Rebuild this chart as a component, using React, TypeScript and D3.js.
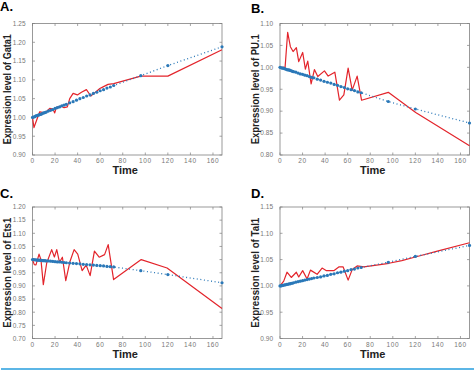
import React from "react";
import * as d3 from "d3";

// time axis
const xTicks = [0, 20, 40, 60, 80, 100, 120, 140, 160];

// model fit (blue) sampled times
const blueTimes = [0, 1, 2, 3, 4, 5, 6, 7, 8, 9, 10, 11, 12, 14, 16, 18, 20, 22, 24, 26, 28, 30, 33, 36, 39, 42, 45, 48, 51, 54, 57, 60, 63, 66, 69, 72, 96, 120, 168];

const gata1Blue = [1.0, 1.001, 1.002, 1.004, 1.005, 1.006, 1.007, 1.008, 1.009, 1.011, 1.012, 1.013, 1.014, 1.017, 1.019, 1.021, 1.024, 1.026, 1.028, 1.031, 1.033, 1.035, 1.039, 1.042, 1.046, 1.05, 1.053, 1.057, 1.06, 1.064, 1.067, 1.071, 1.074, 1.078, 1.081, 1.085, 1.111, 1.138, 1.188];
const pu1Blue = [1.0, 0.999, 0.998, 0.998, 0.997, 0.996, 0.995, 0.994, 0.994, 0.993, 0.992, 0.991, 0.99, 0.989, 0.987, 0.985, 0.984, 0.982, 0.981, 0.979, 0.977, 0.976, 0.973, 0.971, 0.968, 0.966, 0.964, 0.961, 0.959, 0.956, 0.954, 0.951, 0.949, 0.947, 0.944, 0.942, 0.922, 0.905, 0.873];
const ets1Blue = [1.0, 1.0, 0.999, 0.999, 0.998, 0.998, 0.998, 0.997, 0.997, 0.996, 0.996, 0.996, 0.995, 0.995, 0.994, 0.993, 0.992, 0.991, 0.991, 0.99, 0.989, 0.988, 0.987, 0.986, 0.985, 0.984, 0.982, 0.981, 0.98, 0.979, 0.978, 0.977, 0.976, 0.974, 0.973, 0.972, 0.958, 0.943, 0.912];
const tal1Blue = [1.0, 1.0, 1.001, 1.001, 1.002, 1.002, 1.003, 1.003, 1.004, 1.004, 1.005, 1.005, 1.006, 1.007, 1.008, 1.009, 1.01, 1.011, 1.012, 1.013, 1.014, 1.015, 1.016, 1.017, 1.019, 1.02, 1.022, 1.023, 1.025, 1.026, 1.028, 1.029, 1.031, 1.032, 1.034, 1.035, 1.045, 1.056, 1.077];

// observed (red)
const gata1RedT = [0, 1.3, 6.4, 11, 15.3, 18.2, 19.7, 21.2, 25.6, 28, 30.9, 33, 36, 39.8, 43.4, 47.8, 51.7, 55.3, 59.7, 63, 67, 72, 96, 120, 168];
const gata1Red = [1.0, 0.973, 1.015, 1.012, 1.024, 1.022, 1.012, 1.027, 1.03, 1.026, 1.028, 1.05, 1.064, 1.06, 1.067, 1.074, 1.057, 1.066, 1.077, 1.082, 1.088, 1.09, 1.11, 1.11, 1.18];

const pu1RedT = [0, 4.5, 6.8, 9.2, 11.6, 14.5, 16.6, 20.1, 22.5, 24.6, 27.6, 30.5, 33.5, 39.4, 42.7, 48.6, 52.7, 56.6, 60.4, 64, 68.4, 72.3, 96, 120.3, 168];
const pu1Red = [1.0, 1.0, 1.08, 1.047, 1.036, 1.045, 1.013, 1.034, 0.996, 1.014, 0.962, 0.995, 0.979, 0.992, 0.98, 0.989, 0.925, 0.937, 0.998, 0.948, 0.98, 0.925, 0.943, 0.897, 0.821];

const ets1RedT = [0, 1.6, 3.1, 5.8, 7.5, 9.6, 12.6, 17, 19.4, 21.5, 23.9, 26.5, 29.5, 33.3, 36.9, 40.1, 44, 47.6, 51.1, 54.9, 59.1, 63.9, 67.1, 71.9, 96.4, 119.3, 168];
const ets1Red = [1.0, 0.981, 0.98, 1.021, 1.0, 0.905, 0.987, 1.038, 1.01, 1.038, 0.99, 1.009, 0.92, 0.994, 1.038, 1.021, 0.958, 0.979, 0.939, 1.032, 1.009, 1.019, 1.057, 0.924, 1.0, 0.968, 0.814];

const tal1RedT = [0, 3.3, 6.2, 10, 14.5, 16.6, 20.1, 24, 27, 32.9, 37.3, 41.2, 47.7, 52.1, 56, 60.4, 64, 68.4, 74.4, 84, 96.6, 108, 120, 139.5, 168];
const tal1Red = [1.0, 1.009, 1.026, 1.016, 1.026, 1.017, 1.029, 1.013, 1.03, 1.022, 1.034, 1.029, 1.029, 1.036, 1.036, 1.011, 1.031, 1.038, 1.036, 1.039, 1.043, 1.048, 1.055, 1.066, 1.082];

const gata1Ticks = [0.9, 0.95, 1.0, 1.05, 1.1, 1.15, 1.2, 1.25];
const pu1Ticks = [0.8, 0.85, 0.9, 0.95, 1.0, 1.05, 1.1];
const ets1Ticks = [0.7, 0.75, 0.8, 0.85, 0.9, 0.95, 1.0, 1.05, 1.1, 1.15, 1.2];
const tal1Ticks = [0.9, 0.95, 1.0, 1.05, 1.1, 1.15];

const RED = "#e3242b";
const BLUE = "#2a78b8";
const FONT = "'Liberation Sans', Arial, sans-serif";

const W = 189.5;
const H = 131.5;

const panels = [
  { letter: "A.", gene: "Gata1", left: 32.5, top: 23.5, lx: 0, ly: 11, ticks: gata1Ticks, redT: gata1RedT, red: gata1Red, blue: gata1Blue },
  { letter: "B.", gene: "PU.1", left: 280, top: 23.5, lx: 251, ly: 13, ticks: pu1Ticks, redT: pu1RedT, red: pu1Red, blue: pu1Blue },
  { letter: "C.", gene: "Ets1", left: 32.5, top: 207, lx: 0, ly: 198, ticks: ets1Ticks, redT: ets1RedT, red: ets1Red, blue: ets1Blue },
  { letter: "D.", gene: "Tal1", left: 280, top: 207, lx: 251, ly: 198, ticks: tal1Ticks, redT: tal1RedT, red: tal1Red, blue: tal1Blue },
];

const Panel = ({ p }: { p: (typeof panels)[number] }) => {
  const x = d3.scaleLinear().domain([0, 168]).range([0, W]);
  const y = d3
    .scaleLinear()
    .domain([p.ticks[0], p.ticks[p.ticks.length - 1]])
    .range([H, 0]);

  const line = d3
    .line<[number, number]>()
    .x(d => x(d[0]))
    .y(d => y(d[1]));

  const redPts = p.redT.map((t, i) => [t, p.red[i]] as [number, number]);
  const bluePts = blueTimes.map((t, i) => [t, p.blue[i]] as [number, number]);

  return (
    <g>
      <text x={p.lx} y={p.ly} fontFamily={FONT} fontWeight={900} fontSize={13} fill="#000">
        {p.letter}
      </text>
      <g transform={`translate(${p.left},${p.top})`}>
        <rect width={W} height={H} fill="#fff" stroke="#808080" strokeWidth={0.8} />
        {xTicks.map(t => (
          <g key={t}>
            <line x1={x(t)} x2={x(t)} y1={H} y2={H - 2.5} stroke="#808080" strokeWidth={0.7} />
            <line x1={x(t)} x2={x(t)} y1={0} y2={2.5} stroke="#808080" strokeWidth={0.7} />
            <text x={x(t)} y={H + 8} textAnchor="middle" fontFamily={FONT} fontSize={6.5} fill="#777" letterSpacing={0.6}>
              {t}
            </text>
          </g>
        ))}
        {p.ticks.map(t => (
          <g key={t}>
            <line x1={0} x2={2.5} y1={y(t)} y2={y(t)} stroke="#808080" strokeWidth={0.7} />
            <line x1={W} x2={W - 2.5} y1={y(t)} y2={y(t)} stroke="#808080" strokeWidth={0.7} />
            <text x={-7} y={y(t) + 2.3} textAnchor="end" fontFamily={FONT} fontSize={6.5} fill="#777">
              {t.toFixed(2)}
            </text>
          </g>
        ))}
        <path d={line(redPts) || ""} fill="none" stroke={RED} strokeWidth={1.2} strokeLinejoin="round" />
        <path d={line(bluePts) || ""} fill="none" stroke={BLUE} strokeWidth={1.3} strokeDasharray="1 2.6" />
        {bluePts.map((d, i) => (
          <circle key={i} cx={x(d[0])} cy={y(d[1])} r={1.6} fill={BLUE} />
        ))}
        <text
          transform={`translate(${-21.5},${H / 2}) rotate(-90)`}
          textAnchor="middle"
          fontFamily={FONT}
          fontWeight="bold"
          fontSize={11}
          fill="#222"
          textLength={110}
          lengthAdjust="spacingAndGlyphs"
        >
          {`Expression level of ${p.gene}`}
        </text>
        <text x={W / 2 - 2} y={H + 19} textAnchor="middle" fontFamily={FONT} fontWeight="bold" fontSize={11} fill="#222">
          Time
        </text>
      </g>
    </g>
  );
}

export default function App() {
  return (
    <svg width={474} height={373} style={{ position: "absolute", left: 0, top: 0, background: "#fff" }}>
      <rect width={474} height={373} fill="#fff" />
      {panels.map(p => (
        <Panel key={p.gene} p={p} />
      ))}
      <line x1={1} x2={474} y1={369} y2={369} stroke="#5cb6e6" strokeWidth={2} />
    </svg>
  );
}
